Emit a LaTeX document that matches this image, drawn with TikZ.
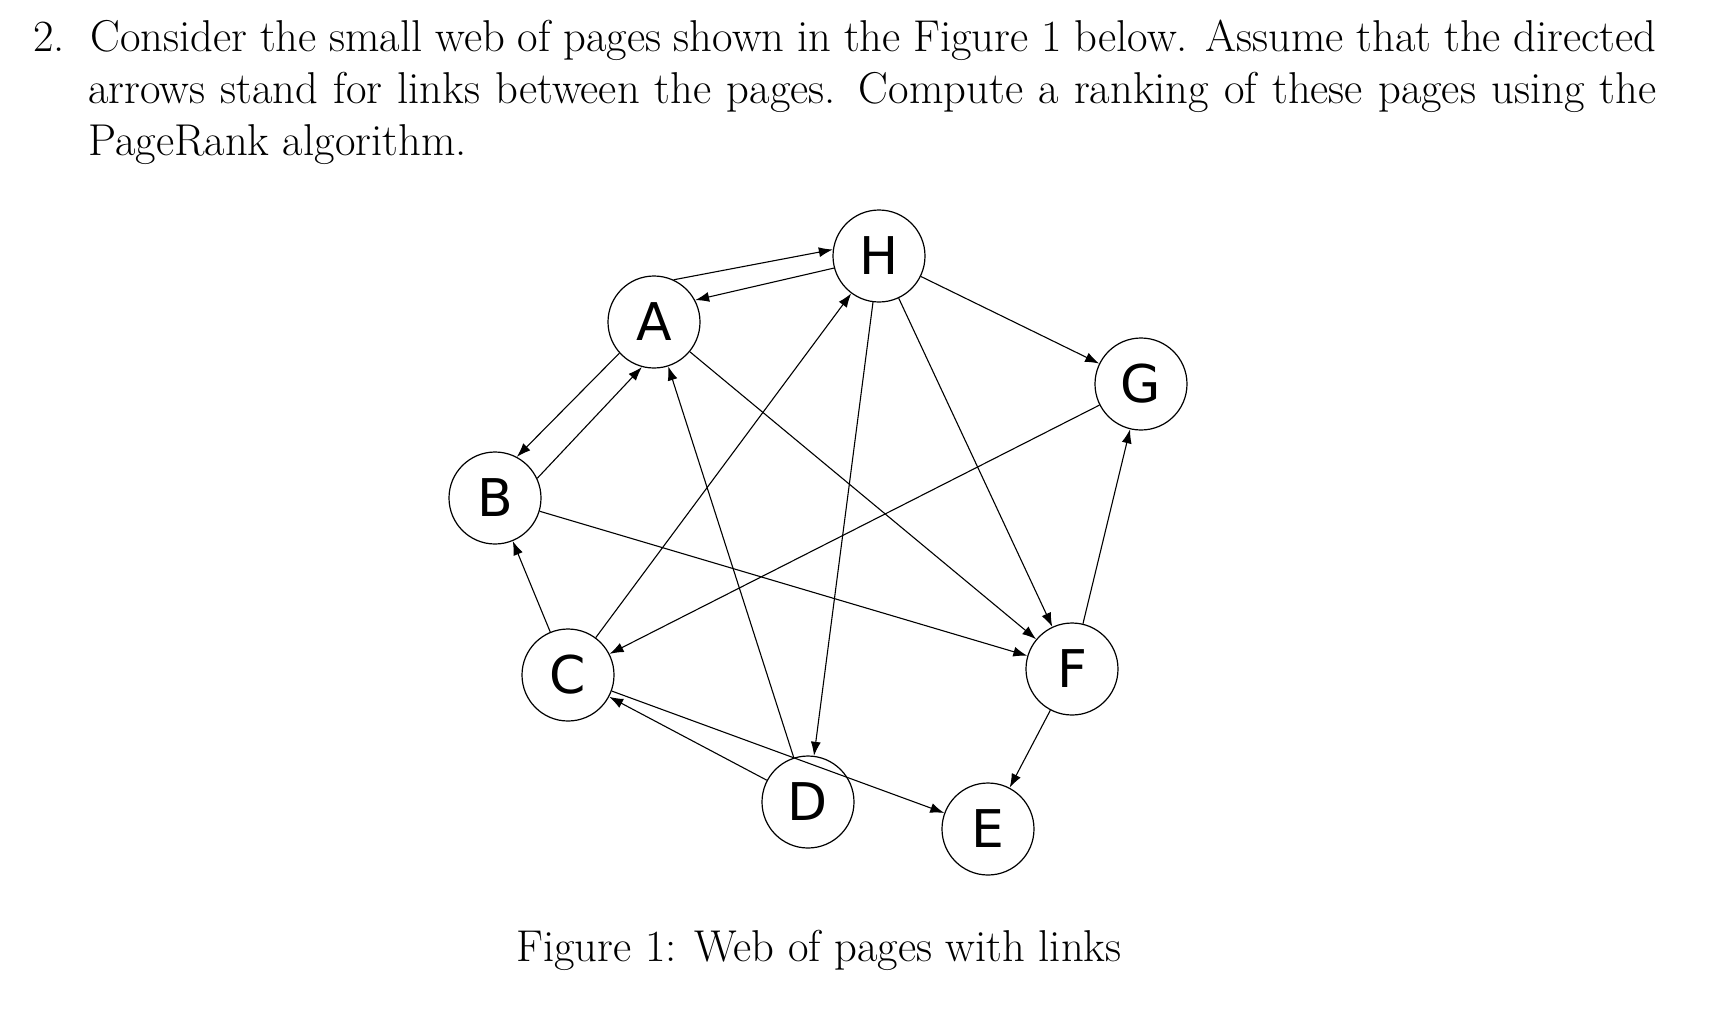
\documentclass[tikz,border=0pt]{standalone}
\usepackage{fontspec}
\newfontfamily\nodefont{DejaVu Sans}
\usetikzlibrary{arrows.meta}
\begin{document}
\begin{tikzpicture}[x=0.5pt,y=-0.5pt,
  page/.style={circle,draw,line width=0.6pt,minimum size=46pt,inner sep=0pt,font=\nodefont\fontsize{26}{28}\selectfont},
  link/.style={line width=0.55pt,-{Latex[length=7pt,width=5pt]}}]
\useasboundingbox (0,0) rectangle (1720,1008);
\node[anchor=north west,inner sep=0pt,text width=811.5pt,align=justify] (txt) at (33,20)
 {\fontsize{22.3}{26}\selectfont\noindent\hangindent=27.5pt\hangafter=1
 2.\ \ Consider the small web of pages shown in the Figure 1 below. Assume that the directed arrows stand for links between the pages. Compute a ranking of these pages using the PageRank algorithm.\par};
\node[page] (H) at (879,256) {H};
\node[page] (A) at (654,322) {A};
\node[page] (B) at (495,498) {B};
\node[page] (C) at (568,675) {C};
\node[page] (D) at (808,802) {D};
\node[page] (E) at (988,829) {E};
\node[page] (F) at (1072,669) {F};
\node[page] (G) at (1141,384) {G};
\draw[link] (A.65) -- (H.172);
\draw[link] (H.195) -- (A.28);
\draw[link] (A.222) -- (B.62);
\draw[link] (B.25) -- (A.255);
\draw[link] (A) -- (F);
\draw[link] (B) -- (F);
\draw[link] (C) -- (B);
\draw[link] (C) -- (H);
\draw[link] (C) -- (E);
\draw[link] (D) -- (C);
\draw[link] (D) -- (A);
\draw[link] (H) -- (D);
\draw[link] (H) -- (F);
\draw[link] (H) -- (G);
\draw[link] (G) -- (C);
\draw[link] (F) -- (G);
\draw[link] (F) -- (E);
\node (cap) at (819,950) {\fontsize{22.3}{26}\selectfont Figure 1: Web of pages with links};
\end{tikzpicture}
\end{document}
